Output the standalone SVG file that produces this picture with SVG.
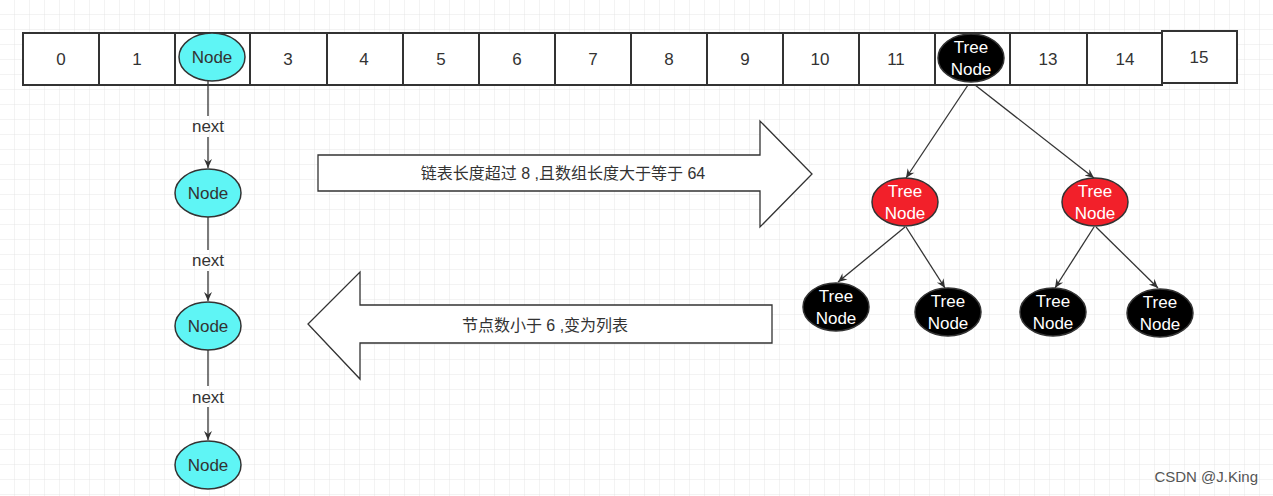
<svg xmlns="http://www.w3.org/2000/svg" width="1273" height="496" viewBox="0 0 1273 496">
<style>
.cell{fill:#fff;stroke:#333;stroke-width:2}
.t{font-family:"Liberation Sans",Arial,sans-serif;font-size:17px;fill:#333;text-anchor:middle;dominant-baseline:central}
.w{fill:#fff}
.cyan{fill:#5ff5f5;stroke:#333;stroke-width:1.5}
.blk{fill:#000;stroke:#333;stroke-width:1.5}
.red{fill:#f2202a;stroke:#333;stroke-width:1.5}
.ln{stroke:#333;stroke-width:1.3;fill:none;marker-end:url(#ah)}
.big{fill:#fff;stroke:#333;stroke-width:1.3}
</style>
<defs>
<pattern id="g" width="15" height="15" patternUnits="userSpaceOnUse"><path d="M15 0V15H0" fill="none" stroke="#e6e6e6" stroke-width="1"/></pattern>
<marker id="ah" markerWidth="10" markerHeight="10" refX="9" refY="5" orient="auto" markerUnits="userSpaceOnUse"><path d="M0 1L9 5L0 9L3 5Z" fill="#333"/></marker>
</defs>
<rect width="1273" height="496" fill="#fff"/>
<rect width="1273" height="496" fill="url(#g)"/>
<g id="array">
<rect class="cell" x="23" y="33" width="76" height="52"/><text class="t" x="61" y="59">0</text>
<rect class="cell" x="99" y="33" width="76" height="52"/><text class="t" x="137" y="59">1</text>
<rect class="cell" x="175" y="33" width="75" height="52"/>
<rect class="cell" x="250" y="33" width="77" height="52"/><text class="t" x="288" y="59">3</text>
<rect class="cell" x="327" y="33" width="76" height="52"/><text class="t" x="364" y="59">4</text>
<rect class="cell" x="403" y="33" width="76" height="52"/><text class="t" x="441" y="59">5</text>
<rect class="cell" x="479" y="33" width="76" height="52"/><text class="t" x="517" y="59">6</text>
<rect class="cell" x="555" y="33" width="76" height="52"/><text class="t" x="593" y="59">7</text>
<rect class="cell" x="631" y="33" width="76" height="52"/><text class="t" x="669" y="59">8</text>
<rect class="cell" x="707" y="33" width="76" height="52"/><text class="t" x="745" y="59">9</text>
<rect class="cell" x="783" y="33" width="76" height="52"/><text class="t" x="820" y="59">10</text>
<rect class="cell" x="859" y="33" width="76" height="52"/><text class="t" x="896" y="59">11</text>
<rect class="cell" x="935" y="33" width="75" height="52"/>
<rect class="cell" x="1010" y="33" width="77" height="52"/><text class="t" x="1048" y="59">13</text>
<rect class="cell" x="1087" y="33" width="75" height="52"/><text class="t" x="1125" y="59">14</text>
<rect class="cell" x="1162" y="31" width="75" height="52"/><text class="t" x="1199" y="57">15</text>
</g>
<g id="connectors">
<line x1="208" y1="81" x2="208" y2="116" stroke="#333" stroke-width="1.3"/>
<line class="ln" x1="208" y1="137" x2="208" y2="168"/>
<text class="t" x="208" y="126">next</text>
<line x1="208" y1="217" x2="208" y2="250" stroke="#333" stroke-width="1.3"/>
<line class="ln" x1="208" y1="271" x2="208" y2="301"/>
<text class="t" x="208" y="260">next</text>
<line x1="208" y1="350" x2="208" y2="386" stroke="#333" stroke-width="1.3"/>
<line class="ln" x1="208" y1="407" x2="208" y2="440"/>
<text class="t" x="208" y="397">next</text>
<line class="ln" x1="968" y1="85" x2="906" y2="178"/>
<line class="ln" x1="975" y1="85" x2="1094" y2="178"/>
<line class="ln" x1="905" y1="227" x2="838" y2="282"/>
<line class="ln" x1="906" y1="227" x2="945" y2="288"/>
<line class="ln" x1="1094" y1="227" x2="1055" y2="288"/>
<line class="ln" x1="1096" y1="227" x2="1158" y2="288"/>
</g>
<g id="node0"><ellipse class="cyan" cx="212" cy="57" rx="33" ry="24"/><text class="t" x="212" y="57">Node</text></g>
<g id="node1"><ellipse class="cyan" cx="208" cy="193" rx="33" ry="24"/><text class="t" x="208" y="193">Node</text></g>
<g id="node2"><ellipse class="cyan" cx="208" cy="326" rx="33" ry="24"/><text class="t" x="208" y="326">Node</text></g>
<g id="node3"><ellipse class="cyan" cx="208" cy="465" rx="33" ry="24"/><text class="t" x="208" y="465">Node</text></g>
<g id="tree0"><ellipse class="blk" cx="971" cy="58" rx="33" ry="24"/><text class="t w" x="971" y="47">Tree</text><text class="t w" x="971" y="69">Node</text></g>
<g id="tree1"><ellipse class="red" cx="905" cy="202" rx="33" ry="24"/><text class="t w" x="905" y="191">Tree</text><text class="t w" x="905" y="213">Node</text></g>
<g id="tree2"><ellipse class="red" cx="1095" cy="202" rx="33" ry="24"/><text class="t w" x="1095" y="191">Tree</text><text class="t w" x="1095" y="213">Node</text></g>
<g id="tree3"><ellipse class="blk" cx="836" cy="307" rx="33" ry="24"/><text class="t w" x="836" y="296">Tree</text><text class="t w" x="836" y="318">Node</text></g>
<g id="tree4"><ellipse class="blk" cx="948" cy="312" rx="33" ry="24"/><text class="t w" x="948" y="301">Tree</text><text class="t w" x="948" y="323">Node</text></g>
<g id="tree5"><ellipse class="blk" cx="1053" cy="312" rx="33" ry="24"/><text class="t w" x="1053" y="301">Tree</text><text class="t w" x="1053" y="323">Node</text></g>
<g id="tree6"><ellipse class="blk" cx="1160" cy="313" rx="33" ry="24"/><text class="t w" x="1160" y="302">Tree</text><text class="t w" x="1160" y="324">Node</text></g>
<g id="arrowRight"><path class="big" d="M318 155H760V121L812 174L760 227V191H318Z"/><text class="t" x="563" y="173" style="font-family:'Liberation Sans','Noto Sans CJK SC',sans-serif;font-size:16px">链表长度超过 8 ,且数组长度大于等于 64</text></g>
<g id="arrowLeft"><path class="big" d="M772 305H360V272L308 324L360 379V343H772Z"/><text class="t" x="545" y="325" style="font-family:'Liberation Sans','Noto Sans CJK SC',sans-serif;font-size:16px">节点数小于 6 ,变为列表</text></g>
<text x="1258" y="482" style="font-family:'Liberation Sans','Noto Sans CJK SC',sans-serif;font-size:15px;fill:#555;text-anchor:end">CSDN @J.King</text>
</svg>
